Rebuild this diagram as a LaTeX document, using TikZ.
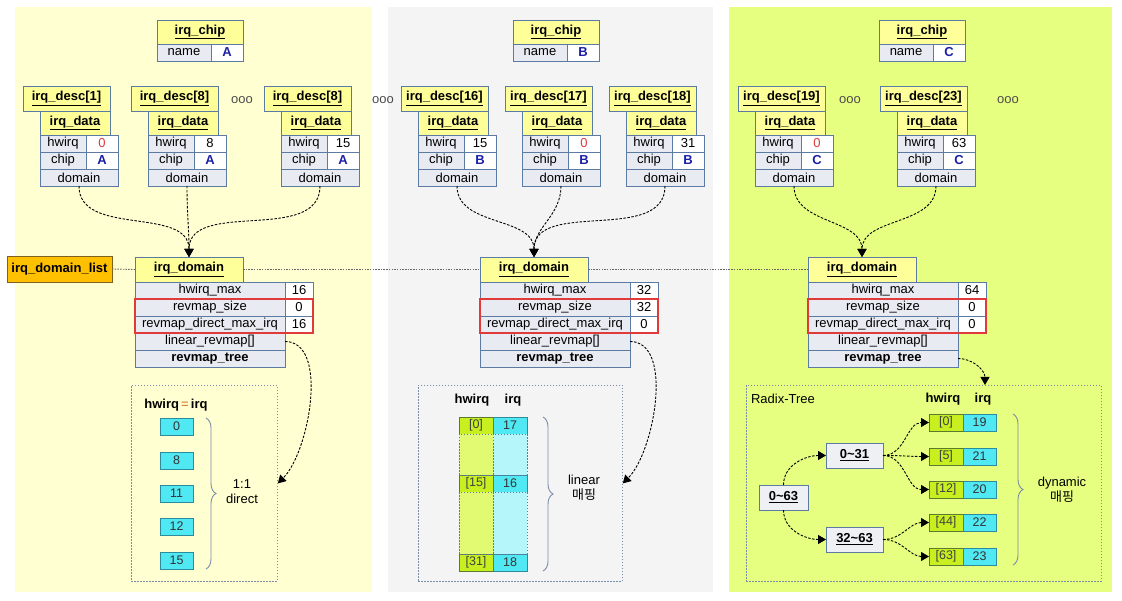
\documentclass[tikz,border=0pt]{standalone}
\usepackage{fontspec}
\setmainfont{Liberation Sans}
\newfontfamily\krfont{Noto Sans CJK KR}
\usetikzlibrary{positioning, arrows.meta, fit, calc, decorations.pathreplacing}
\definecolor{cPanA}{HTML}{FFFFD2}
\definecolor{cPanB}{HTML}{F4F4F4}
\definecolor{cPanC}{HTML}{E6FF80}
\definecolor{cHdr}{HTML}{FFFF99}
\definecolor{cFld}{HTML}{E8EBF2}
\definecolor{cBrd}{HTML}{5B7BA3}
\definecolor{cReg}{HTML}{7A8CA8}
\definecolor{cCyan}{HTML}{50E8F2}
\definecolor{cCyanB}{HTML}{2C8C9C}
\definecolor{cCyanL}{HTML}{B4F6FA}
\definecolor{cLime}{HTML}{C8F020}
\definecolor{cLimeB}{HTML}{5A7A30}
\definecolor{cLimeL}{HTML}{E2FA72}
\definecolor{cList}{HTML}{FFC000}
\definecolor{cListB}{HTML}{806020}
\definecolor{cRed}{HTML}{E03A3A}
\definecolor{cBlue}{HTML}{1C20A8}
\definecolor{cTree}{HTML}{EEF0F4}
\definecolor{cOrange}{HTML}{D46A1A}

\newcommand{\ulbf}[1]{\underline{\textbf{#1}}}

\tikzset{
  cell/.style={draw=cBrd, line width=0.8pt, inner sep=0pt, outer sep=0pt,
    anchor=north west, font=\fontsize{13}{15}\selectfont},
  hdr/.style={cell, fill=cHdr},
  fld/.style={cell, fill=cFld},
  val/.style={cell, fill=white},
  vbold/.style={val, text=cBlue, font=\fontsize{13}{15}\selectfont\bfseries},
  redbox/.style={draw=cRed, line width=1.6pt, inner sep=0pt},
  panel/.style={draw=none, inner sep=0pt, anchor=north west},
  region/.style={draw=cReg, line width=0.8pt, dash pattern=on 1.5pt off 1.5pt,
    inner sep=0pt, anchor=north west},
  irqc/.style={cell, draw=cCyanB, fill=cCyan, text=black!80, font=\fontsize{12.5}{14}\selectfont},
  hwc/.style={cell, draw=cLimeB, fill=cLime, text=black!75, font=\fontsize{12.5}{14}\selectfont},
  tnode/.style={cell, fill=cTree, minimum width=57pt, minimum height=25pt},
  note/.style={font=\fontsize{13}{15}\selectfont, align=center},
  colhd/.style={font=\fontsize{13}{15}\selectfont\bfseries},
  dasharrow/.style={line width=0.9pt, dash pattern=on 2.5pt off 1.5pt,
    -{Triangle[width=9pt,length=8pt]}},
  linkline/.style={line width=0.9pt, draw=black!60, dash pattern=on 1.5pt off 1.2pt},
  brc/.style={draw=cReg, line width=0.9pt, decorate,
    decoration={brace, amplitude=10pt}},
  gap/.style={draw=cBrd, line width=0.6pt, dash pattern=on 1.5pt off 1.5pt},
}

\begin{document}
\begin{tikzpicture}[x=1pt, y=-1pt, font=\fontsize{13}{15}\selectfont]
  \useasboundingbox (0,0) rectangle (1122,601);
  \node[panel, fill=cPanA, minimum width=357pt, minimum height=585pt] (panA) at (15,7) {};
  \node[panel, fill=cPanB, minimum width=325pt, minimum height=585pt] (panB) at (388,7) {};
  \node[panel, fill=cPanC, minimum width=383pt, minimum height=585pt] (panC) at (729,7) {};

  \foreach \id/\x/\ch in {A/157/A, B/513/B, C/879/C}{
    \node[hdr, minimum width=86pt, minimum height=24pt] (chip\id) at (\x,20) {\ulbf{irq\_chip}};
    \node[fld, minimum width=54pt, minimum height=17pt] (nm\id) at (\x,44) {name};
    \node[vbold, minimum width=32pt, minimum height=17pt] (nmv\id) at ({\x+54},44) {\ch};
  }

  \foreach \id/\x/\nm/\hv/\hc/\ch in {a1/23/1/0/cRed/A, a2/131/8/8/black/A,
      a3/264/8/15/black/A, b1/401/16/15/black/B, b2/505/17/0/cRed/B,
      b3/609/18/31/black/B, c1/738/19/0/cRed/C, c2/880/23/63/black/C}{
    \node[hdr, minimum width=87pt, minimum height=25pt] (desc\id) at (\x,86) {\ulbf{irq\_desc[\nm]}};
    \node[hdr, minimum width=70pt, minimum height=24pt] (data\id) at ({\x+17},111) {\ulbf{irq\_data}};
    \node[fld, minimum width=46pt, minimum height=17pt] (hwl\id) at ({\x+17},135) {hwirq};
    \node[val, minimum width=32pt, minimum height=17pt, text=\hc] (hwv\id) at ({\x+63},135) {\hv};
    \node[fld, minimum width=46pt, minimum height=17pt] (chl\id) at ({\x+17},152) {chip};
    \node[vbold, minimum width=32pt, minimum height=17pt] (chv\id) at ({\x+63},152) {\ch};
    \node[fld, minimum width=78pt, minimum height=17pt] (dom\id) at ({\x+17},169) {domain};
  }
  \node[text=black!70] (ooA) at (242,100) {ooo};
  \node[text=black!70] (ooAB) at (383,100) {ooo};
  \node[text=black!70] (ooC1) at (850,100) {ooo};
  \node[text=black!70] (ooC2) at (1008,100) {ooo};

  \node[cell, fill=cList, draw=cListB, minimum width=105pt, minimum height=26pt,
    font=\fontsize{13}{15}\selectfont\bfseries] (dlist) at (7,256) {irq\_domain\_list};

  \foreach \id/\x/\m/\s/\d in {A/135/16/0/16, B/480/32/32/0, C/808/64/0/0}{
    \node[hdr, minimum width=108pt, minimum height=25pt] (irqd\id) at (\x,257) {\ulbf{irq\_domain}};
    \node[fld, minimum width=150pt, minimum height=17pt] (hmax\id) at (\x,282) {hwirq\_max};
    \node[val, minimum width=28pt, minimum height=17pt] (hmaxv\id) at ({\x+150},282) {\m};
    \node[fld, minimum width=150pt, minimum height=17pt] (rsz\id) at (\x,299) {revmap\_size};
    \node[val, minimum width=28pt, minimum height=17pt] (rszv\id) at ({\x+150},299) {\s};
    \node[fld, minimum width=150pt, minimum height=17pt] (rdm\id) at (\x,316) {revmap\_direct\_max\_irq};
    \node[val, minimum width=28pt, minimum height=17pt] (rdmv\id) at ({\x+150},316) {\d};
    \node[fld, minimum width=150pt, minimum height=17pt] (lin\id) at (\x,333) {linear\_revmap[]};
    \node[fld, minimum width=150pt, minimum height=17pt, font=\fontsize{13}{15}\selectfont\bfseries] (tree\id) at (\x,350) {revmap\_tree};
    \node[redbox, fit=(rsz\id)(rdmv\id)] (red\id) {};
  }

  \draw[linkline] (dlist.east) -- (irqdA.west);
  \draw[linkline] (irqdA.east) -- (irqdB.west);
  \draw[linkline] (irqdB.east) -- (irqdC.west);

  \foreach \s in {a1, a2, a3}
    \draw[dasharrow] (dom\s.south) to[out=-90, in=90] (irqdA.north);
  \foreach \s in {b1, b2, b3}
    \draw[dasharrow] (dom\s.south) to[out=-90, in=90] (irqdB.north);
  \foreach \s in {c1, c2}
    \draw[dasharrow] (dom\s.south) to[out=-90, in=90] (irqdC.north);

  % direct
  \node[region, minimum width=146pt, minimum height=196pt] (mapA) at (131,385) {};
  \node[colhd] (hdA) at (176,405) {hwirq\,{\color{cOrange}\mdseries=}\,irq};
  \foreach \v/\y in {0/418, 8/452, 11/485, 12/518, 15/552}
    \node[irqc, minimum width=33pt, minimum height=17pt] (dA\v) at (160,\y) {\v};
  \draw[brc] ([xshift=13pt]dA0.north east) -- ([xshift=13pt]dA15.south east);
  \node[note] (txA) at (242,492) {1:1\\direct};
  \draw[dasharrow] (linA.east) to[out=0, in=45, looseness=0.8] (mapA.east);

  % linear
  \node[region, minimum width=204pt, minimum height=196pt] (mapB) at (418,385) {};
  \node[colhd] (hwB) at (472,400) {hwirq};
  \node[colhd] (irqB) at (513,400) {irq};
  \foreach \k/\v/\y in {0/17/417, 15/16/475, 31/18/554}{
    \node[hwc, minimum width=34pt, minimum height=17pt] (hB\k) at (459,\y) {[\k]};
    \node[irqc, minimum width=34pt, minimum height=17pt] (iB\k) at (493,\y) {\v};
  }
  \draw[gap, fill=cLimeL] (hB0.south west) rectangle (hB15.north east);
  \draw[gap, fill=cCyanL] (iB0.south west) rectangle (iB15.north east);
  \draw[gap, fill=cLimeL] (hB15.south west) rectangle (hB31.north east);
  \draw[gap, fill=cCyanL] (iB15.south west) rectangle (iB31.north east);
  \draw[brc] ([xshift=16pt]iB0.north east) -- ([xshift=16pt]iB31.south east);
  \node[note] (txB) at (584,488) {linear\\{\krfont 매핑}};
  \draw[dasharrow] (linB.east) to[out=0, in=45, looseness=0.8] (mapB.east);

  % radix tree
  \node[region, minimum width=355pt, minimum height=196pt] (mapC) at (746,385) {};
  \node[note] (rtC) at (783,399) {Radix-Tree};
  \node[colhd] (hwC) at (943,399) {hwirq};
  \node[colhd] (irqC) at (983,399) {irq};
  \foreach \k/\v/\y in {0/19/414, 5/21/448, 12/20/481, 44/22/514, 63/23/548}{
    \node[hwc, minimum width=34pt, minimum height=17pt] (hC\k) at (929,\y) {[\k]};
    \node[irqc, minimum width=33pt, minimum height=17pt] (iC\k) at (963,\y) {\v};
  }
  \node[tnode, minimum width=49pt] (t0) at (759,485) {\ulbf{0\textasciitilde63}};
  \node[tnode] (t1) at (826,443) {\ulbf{0\textasciitilde31}};
  \node[tnode] (t2) at (826,527) {\ulbf{32\textasciitilde63}};
  \draw[dasharrow] (t0.north) to[out=90, in=180] (t1.west);
  \draw[dasharrow] (t0.south) to[out=-90, in=180] (t2.west);
  \foreach \k in {0, 5, 12}
    \draw[dasharrow] (t1.east) to[out=0, in=180] (hC\k.west);
  \foreach \k in {44, 63}
    \draw[dasharrow] (t2.east) to[out=0, in=180] (hC\k.west);
  \draw[brc] ([xshift=17pt]iC0.north east) -- ([xshift=17pt]iC63.south east);
  \node[note] (txC) at (1062,490) {dynamic\\{\krfont 매핑}};
  \coordinate (tinC) at (985,385);
  \draw[dasharrow] (treeC.east) to[out=0, in=90] (tinC);
\end{tikzpicture}
\end{document}
